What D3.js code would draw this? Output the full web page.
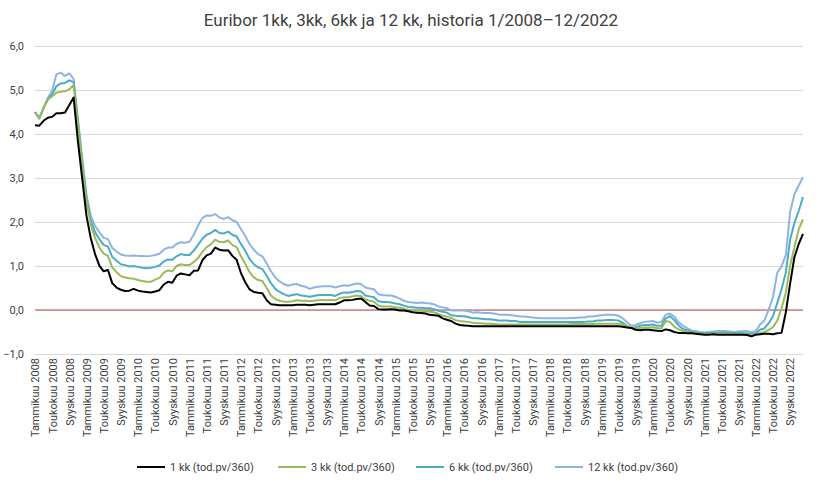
<!DOCTYPE html>
<html>
<head>
<meta charset="utf-8">
<script src="https://cdn.jsdelivr.net/npm/d3@7"></script>
<style>
  body { margin: 0; background: #fff; }
  text { font-family: Roboto, "DejaVu Sans", sans-serif; }
</style>
</head>
<body>
<div id="chart"></div>
<script>
const monthNames = ["Tammikuu", "Toukokuu", "Syyskuu"]
const years = d3.range(2008, 2023)

// Monthly averages 1/2008 - 12/2022, one row per year
const euribor1 = [
  4.20, 4.19, 4.30, 4.37, 4.39, 4.47, 4.47, 4.49, 4.66, 4.83, 3.84, 2.99,
  2.14, 1.63, 1.27, 1.01, 0.88, 0.91, 0.61, 0.51, 0.46, 0.43, 0.44, 0.48,
  0.44, 0.42, 0.41, 0.40, 0.42, 0.45, 0.58, 0.64, 0.62, 0.78, 0.83, 0.81,
  0.79, 0.89, 0.90, 1.13, 1.24, 1.28, 1.42, 1.37, 1.35, 1.36, 1.23, 1.14,
  0.84, 0.63, 0.47, 0.41, 0.39, 0.38, 0.22, 0.13, 0.12, 0.11, 0.11, 0.11,
  0.11, 0.12, 0.12, 0.12, 0.11, 0.12, 0.13, 0.13, 0.13, 0.13, 0.13, 0.17,
  0.22, 0.22, 0.23, 0.25, 0.26, 0.18, 0.10, 0.09, 0.02, 0.01, 0.01, 0.02,
  0.01, -0.01, -0.01, -0.03, -0.05, -0.06, -0.07, -0.08, -0.11, -0.12, -0.13, -0.19,
  -0.22, -0.25, -0.31, -0.34, -0.35, -0.36, -0.37, -0.37, -0.37, -0.37, -0.37, -0.37,
  -0.37, -0.37, -0.37, -0.37, -0.37, -0.37, -0.37, -0.37, -0.37, -0.37, -0.37, -0.37,
  -0.37, -0.37, -0.37, -0.37, -0.37, -0.37, -0.37, -0.37, -0.37, -0.37, -0.37, -0.37,
  -0.37, -0.37, -0.37, -0.37, -0.37, -0.38, -0.40, -0.41, -0.45, -0.46, -0.45, -0.45,
  -0.46, -0.47, -0.48, -0.44, -0.46, -0.50, -0.52, -0.52, -0.53, -0.53, -0.54, -0.55,
  -0.56, -0.56, -0.55, -0.56, -0.56, -0.56, -0.56, -0.56, -0.56, -0.56, -0.57, -0.60,
  -0.56, -0.55, -0.54, -0.54, -0.55, -0.53, -0.52, -0.05, 0.60, 1.20, 1.50, 1.73
]
const euribor3 = [
  4.48, 4.36, 4.60, 4.78, 4.86, 4.94, 4.96, 4.97, 5.02, 5.11, 4.24, 3.29,
  2.46, 1.94, 1.64, 1.42, 1.28, 1.23, 0.97, 0.86, 0.77, 0.74, 0.72, 0.71,
  0.68, 0.66, 0.64, 0.64, 0.69, 0.73, 0.85, 0.90, 0.88, 1.00, 1.04, 1.02,
  1.02, 1.09, 1.18, 1.32, 1.43, 1.49, 1.60, 1.55, 1.54, 1.58, 1.48, 1.43,
  1.22, 1.05, 0.86, 0.74, 0.68, 0.66, 0.50, 0.33, 0.25, 0.21, 0.19, 0.19,
  0.20, 0.22, 0.21, 0.21, 0.20, 0.21, 0.22, 0.23, 0.22, 0.23, 0.22, 0.27,
  0.29, 0.29, 0.31, 0.33, 0.32, 0.24, 0.21, 0.19, 0.10, 0.08, 0.08, 0.08,
  0.06, 0.05, 0.03, 0.00, -0.01, -0.01, -0.02, -0.03, -0.04, -0.05, -0.09, -0.13,
  -0.15, -0.18, -0.23, -0.25, -0.26, -0.27, -0.29, -0.30, -0.30, -0.31, -0.31, -0.32,
  -0.33, -0.33, -0.33, -0.33, -0.33, -0.33, -0.33, -0.33, -0.33, -0.33, -0.33, -0.33,
  -0.33, -0.33, -0.33, -0.33, -0.33, -0.32, -0.32, -0.32, -0.32, -0.32, -0.32, -0.31,
  -0.31, -0.31, -0.31, -0.31, -0.31, -0.33, -0.37, -0.41, -0.42, -0.41, -0.40, -0.40,
  -0.39, -0.41, -0.42, -0.25, -0.27, -0.38, -0.44, -0.48, -0.49, -0.51, -0.52, -0.54,
  -0.55, -0.54, -0.54, -0.54, -0.54, -0.54, -0.54, -0.55, -0.55, -0.55, -0.57, -0.58,
  -0.56, -0.53, -0.50, -0.45, -0.39, -0.24, 0.04, 0.40, 1.01, 1.43, 1.83, 2.06
]
const euribor6 = [
  4.50, 4.36, 4.59, 4.80, 4.90, 5.09, 5.15, 5.16, 5.22, 5.18, 4.29, 3.37,
  2.54, 2.03, 1.77, 1.61, 1.48, 1.44, 1.21, 1.12, 1.04, 1.02, 0.99, 1.00,
  0.98, 0.96, 0.95, 0.96, 0.98, 1.01, 1.10, 1.15, 1.14, 1.22, 1.27, 1.25,
  1.25, 1.35, 1.48, 1.62, 1.71, 1.75, 1.82, 1.75, 1.74, 1.78, 1.71, 1.67,
  1.50, 1.35, 1.16, 1.04, 0.97, 0.93, 0.78, 0.61, 0.48, 0.41, 0.36, 0.32,
  0.34, 0.36, 0.33, 0.32, 0.30, 0.32, 0.34, 0.34, 0.34, 0.34, 0.32, 0.37,
  0.40, 0.39, 0.41, 0.43, 0.42, 0.33, 0.31, 0.29, 0.20, 0.18, 0.18, 0.17,
  0.15, 0.13, 0.10, 0.07, 0.06, 0.05, 0.05, 0.04, 0.04, 0.02, -0.02, -0.04,
  -0.06, -0.12, -0.13, -0.14, -0.14, -0.16, -0.19, -0.19, -0.20, -0.21, -0.21, -0.22,
  -0.24, -0.24, -0.24, -0.25, -0.25, -0.27, -0.27, -0.27, -0.27, -0.27, -0.27, -0.27,
  -0.27, -0.27, -0.27, -0.27, -0.27, -0.27, -0.27, -0.27, -0.27, -0.26, -0.26, -0.24,
  -0.24, -0.23, -0.23, -0.23, -0.24, -0.29, -0.36, -0.41, -0.39, -0.36, -0.34, -0.34,
  -0.33, -0.36, -0.36, -0.19, -0.14, -0.23, -0.35, -0.43, -0.46, -0.49, -0.51, -0.52,
  -0.53, -0.52, -0.52, -0.52, -0.51, -0.51, -0.52, -0.53, -0.52, -0.53, -0.53, -0.54,
  -0.53, -0.45, -0.42, -0.30, -0.14, 0.16, 0.47, 0.85, 1.60, 1.98, 2.25, 2.57
]
const euribor12 = [
  4.50, 4.35, 4.59, 4.82, 4.99, 5.36, 5.39, 5.32, 5.38, 5.25, 4.35, 3.45,
  2.62, 2.14, 1.91, 1.77, 1.64, 1.61, 1.41, 1.33, 1.26, 1.24, 1.23, 1.24,
  1.23, 1.23, 1.22, 1.23, 1.25, 1.28, 1.37, 1.42, 1.42, 1.50, 1.54, 1.53,
  1.55, 1.71, 1.92, 2.09, 2.15, 2.14, 2.18, 2.10, 2.07, 2.11, 2.04, 2.00,
  1.84, 1.68, 1.50, 1.37, 1.27, 1.22, 1.06, 0.88, 0.74, 0.65, 0.59, 0.55,
  0.58, 0.59, 0.55, 0.53, 0.48, 0.51, 0.53, 0.54, 0.54, 0.54, 0.51, 0.54,
  0.56, 0.55, 0.58, 0.60, 0.59, 0.51, 0.49, 0.47, 0.36, 0.34, 0.33, 0.33,
  0.30, 0.26, 0.21, 0.18, 0.17, 0.16, 0.17, 0.16, 0.15, 0.13, 0.08, 0.06,
  0.04, -0.01, -0.01, -0.01, -0.01, -0.03, -0.06, -0.05, -0.06, -0.07, -0.07, -0.08,
  -0.10, -0.11, -0.11, -0.12, -0.13, -0.15, -0.15, -0.16, -0.17, -0.18, -0.19, -0.19,
  -0.19, -0.19, -0.19, -0.19, -0.19, -0.18, -0.18, -0.17, -0.17, -0.15, -0.15, -0.13,
  -0.12, -0.11, -0.11, -0.11, -0.13, -0.19, -0.28, -0.36, -0.34, -0.30, -0.27, -0.26,
  -0.25, -0.29, -0.27, -0.11, -0.08, -0.15, -0.28, -0.36, -0.41, -0.47, -0.48, -0.50,
  -0.51, -0.50, -0.49, -0.48, -0.48, -0.48, -0.49, -0.50, -0.49, -0.48, -0.48, -0.50,
  -0.48, -0.33, -0.24, 0.01, 0.29, 0.85, 0.99, 1.25, 2.23, 2.63, 2.83, 3.02
]
const seriesNames = ["1 kk (tod.pv/360)", "3 kk (tod.pv/360)", "6 kk (tod.pv/360)", "12 kk (tod.pv/360)"]
const colours = ["#000000", "#9BBB59", "#4BACC6", "#8EB4E3"]
const yTicks = [-1, 0, 1, 2, 3, 4, 5, 6]

const width = 822
const height = 485
const plotLeft = 35
const plotRight = 803
const plotTop = 46
const plotBottom = 354

const svg = d3.select("#chart").append("svg")
  .attr("width", width)
  .attr("height", height)

// Title
svg.append("text")
  .attr("x", width / 2)
  .attr("y", 26)
  .attr("text-anchor", "middle")
  .attr("font-size", 17)
  .attr("fill", "#404040")
  .text("Euribor 1kk, 3kk, 6kk ja 12 kk, historia 1/2008–12/2022")

const xScale = d3.scaleLinear().domain([0, euribor1.length - 1]).range([plotLeft, plotRight])
const yScale = d3.scaleLinear().domain([-1, 6]).range([plotBottom, plotTop])

// Horizontal grid lines and y labels
const yAxis = d3.axisLeft(yScale)
  .tickValues(yTicks)
  .tickSize(-(plotRight - plotLeft))
  .tickFormat(d => d3.format(".1f")(d).replace(".", ","))
const gy = svg.append("g")
  .attr("transform", "translate(" + plotLeft + ",0)")
  .call(yAxis)
gy.select(".domain").remove()
gy.selectAll("line").attr("stroke", "#d9d9d9")
gy.selectAll("text").attr("font-size", 11).attr("fill", "#404040").attr("x", -11)

// Zero line
svg.append("line")
  .attr("x1", plotLeft).attr("x2", plotRight)
  .attr("y1", yScale(0)).attr("y2", yScale(0))
  .attr("stroke", "#b0504d")
  .attr("stroke-width", 1)

// X labels every fourth month
const tickIdx = d3.range(0, euribor1.length, 4)
const xAxis = d3.axisBottom(xScale)
  .tickValues(tickIdx)
  .tickSize(0)
  .tickFormat(i => monthNames[(i % 12) / 4] + " " + years[Math.floor(i / 12)])
const gx = svg.append("g")
  .attr("transform", "translate(0," + plotBottom + ")")
  .call(xAxis)
gx.select(".domain").remove()
gx.selectAll("text")
  .attr("font-size", 11)
  .attr("fill", "#404040")
  .style("text-anchor", "end")
  .attr("transform", "rotate(-90)")
  .attr("x", -4)
  .attr("y", 0)
  .attr("dy", "0.35em")

// Lines
const allSeries = [euribor1, euribor3, euribor6, euribor12]
const line = d3.line()
  .x((d, i) => xScale(i))
  .y(d => yScale(d))
for (let i = allSeries.length - 1; i >= 0; i--) {
  svg.append("path")
    .datum(allSeries[i])
    .attr("d", line)
    .attr("fill", "none")
    .attr("stroke", colours[i])
    .attr("stroke-width", 2)
    .attr("stroke-linejoin", "round")
}

// Legend
const legendX = [137, 278, 416, 555]
for (let i = 0; i < seriesNames.length; i++) {
  const row = svg.append("g").attr("transform", "translate(" + legendX[i] + ",467)")
  row.append("line")
    .attr("x1", 0).attr("x2", 28)
    .attr("stroke", colours[i])
    .attr("stroke-width", 2)
  row.append("text")
    .attr("x", 33)
    .attr("y", 4)
    .attr("font-size", 11)
    .attr("fill", "#404040")
    .text(seriesNames[i])
}
</script>
</body>
</html>
